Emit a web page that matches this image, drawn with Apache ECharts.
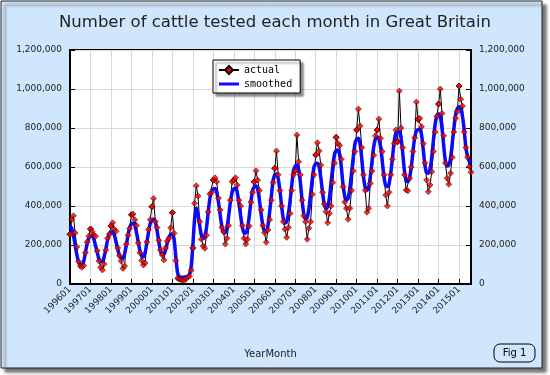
<!DOCTYPE html>
<html><head><meta charset="utf-8">
<script src="https://cdn.jsdelivr.net/npm/echarts@6/dist/echarts.min.js"></script>
<style>html,body{margin:0;padding:0;background:#fff}#c{width:550px;height:375px}</style>
</head><body><div id="c"></div>
<script>
// values in thousands of cattle
const firstYear = 1996, lastYear = 2015, lastMonth = 8;
const categories = [];
for (let y = firstYear; y <= lastYear; y++) {
  for (let m = 1; m <= 12; m++) {
    if (y === lastYear && m > lastMonth) break;
    categories.push(String(y) + (m < 10 ? '0' + m : String(m)));
  }
}
const actual = [
  255, 330, 350, 262, 190, 115, 92, 86, 95, 160, 215, 245,
  282, 268, 250, 245, 170, 118, 85, 72, 102, 175, 235, 255,
  298, 314, 280, 270, 185, 145, 118, 80, 92, 205, 250, 285,
  355, 359, 330, 300, 210, 160, 120, 97, 108, 215, 280, 330,
  396, 439, 320, 290, 225, 175, 150, 123, 185, 220, 235, 289,
  366, 260, 120, 30, 25, 22, 20, 18, 28, 35, 40, 70,
  185, 414, 504, 451, 320, 230, 195, 183, 250, 370, 461, 470,
  533, 545, 525, 440, 380, 290, 268, 205, 234, 300, 430, 524,
  533, 545, 508, 430, 400, 300, 234, 205, 229, 297, 420, 470,
  524, 581, 533, 480, 380, 300, 263, 214, 277, 330, 430, 520,
  593, 682, 560, 480, 400, 320, 281, 239, 290, 362, 480, 560,
  581, 764, 627, 560, 430, 350, 319, 229, 286, 319, 460, 560,
  662, 725, 682, 610, 470, 410, 371, 314, 362, 400, 520, 620,
  752, 721, 710, 640, 499, 420, 388, 332, 388, 480, 580, 680,
  790, 897, 810, 700, 560, 480, 368, 388, 516, 580, 660, 760,
  790, 846, 747, 680, 560, 456, 400, 470, 560, 640, 720, 790,
  730, 990, 800, 700, 560, 482, 478, 542, 600, 680, 750, 933,
  844, 850, 807, 720, 620, 533, 473, 508, 576, 680, 780, 860,
  923, 1000, 875, 760, 620, 542, 511, 568, 650, 780, 850, 884,
  1015, 947, 913, 780, 700, 650, 602, 573
];
const smoothed = [
  300, 285, 250, 200, 150, 115, 100, 97, 115, 160, 205, 235,
  245, 246, 230, 195, 160, 128, 114, 116, 140, 180, 225, 255,
  266, 268, 250, 215, 178, 145, 133, 132, 155, 200, 250, 290,
  308, 311, 300, 262, 215, 170, 145, 140, 160, 210, 265, 310,
  328, 332, 318, 275, 220, 170, 150, 152, 175, 210, 240, 254,
  256, 230, 140, 60, 38, 35, 34, 35, 37, 40, 48, 90,
  200, 330, 390, 360, 300, 250, 234, 245, 290, 370, 440, 478,
  488, 490, 470, 420, 355, 295, 265, 262, 290, 350, 420, 470,
  488, 491, 470, 415, 350, 290, 262, 260, 285, 345, 420, 480,
  498, 502, 485, 430, 360, 300, 270, 268, 300, 370, 450, 530,
  560, 564, 540, 480, 400, 335, 311, 320, 360, 430, 510, 580,
  605, 610, 585, 520, 430, 360, 332, 340, 385, 460, 540, 600,
  617, 619, 600, 545, 470, 410, 388, 395, 440, 520, 600, 665,
  684, 687, 665, 600, 510, 450, 431, 440, 490, 570, 650, 720,
  742, 747, 720, 640, 550, 495, 482, 495, 550, 630, 705, 745,
  752, 745, 705, 630, 550, 505, 499, 515, 570, 650, 730, 775,
  780, 781, 750, 670, 580, 530, 525, 545, 600, 680, 750, 785,
  792, 793, 765, 690, 610, 570, 568, 590, 650, 740, 820, 862,
  872, 860, 800, 710, 630, 605, 610, 645, 720, 800, 870, 900,
  909, 900, 860, 790, 700, 655, 630, 619
];
const yMax = 1200, yStep = 200;
const fmt = v => (v * 1000).toLocaleString('en-US');
const font = 'DejaVu Sans';
const chart = echarts.init(document.getElementById('c'), null, {renderer: 'canvas'});
const yAxisBase = {
  type: 'value', min: 0, max: yMax, interval: yStep,
  axisLine: {show: true, lineStyle: {color: '#000', width: 2}},
  axisTick: {show: true, inside: true, length: 5, lineStyle: {color: '#000'}},
  axisLabel: {formatter: fmt, fontFamily: font, fontSize: 9, color: '#222', margin: 8}
};
chart.setOption({
  animation: false,
  backgroundColor: '#fff',
  graphic: [
    {type: 'rect', z: -10, shape: {x: 1, y: 1, width: 541, height: 367},
     style: {fill: '#d0e6fc', stroke: '#222', lineWidth: 1,
             shadowBlur: 3, shadowOffsetX: 4, shadowOffsetY: 4, shadowColor: 'rgba(0,0,0,0.55)'}},
    {type: 'rect', shape: {x: 494, y: 344, width: 41, height: 18, r: 6},
     style: {fill: '#d0e6fc', stroke: '#000', lineWidth: 1}},
    {type: 'text', x: 514.5, y: 353, style: {text: 'Fig 1', font: '10px "DejaVu Sans"', fill: '#000', textAlign: 'center', textVerticalAlign: 'middle'}}
  ],
  title: {
    text: 'Number of cattle tested each month in Great Britain',
    left: 'center', top: 9,
    textStyle: {fontFamily: font, fontSize: 16.5, fontWeight: 'normal', color: '#222'}
  },
  legend: {
    orient: 'vertical', left: 213, top: 60,
    backgroundColor: '#fff', borderColor: '#000', borderWidth: 1, borderRadius: 0,
    shadowColor: 'rgba(0,0,0,0.45)', shadowBlur: 2, shadowOffsetX: 3, shadowOffsetY: 3,
    padding: [5, 8, 4, 5], itemGap: 4, itemWidth: 20, itemHeight: 10,
    textStyle: {fontFamily: 'DejaVu Sans Mono', fontSize: 10, color: '#000'},
    data: [
      {name: 'actual'},
      {name: 'smoothed', icon: 'path://M0,0L20,0L20,3L0,3Z', itemStyle: {color: '#0a0aff'}}
    ]
  },
  grid: {left: 70, right: 79, top: 50, bottom: 91, show: true, borderColor: '#000', borderWidth: 2, backgroundColor: '#fff'},
  xAxis: {
    type: 'category', data: categories, boundaryGap: false,
    name: 'YearMonth', nameLocation: 'middle', nameGap: 65,
    nameTextStyle: {fontFamily: font, fontSize: 10, color: '#222'},
    axisLine: {lineStyle: {color: '#000', width: 2}},
    axisTick: {inside: true, length: 5, interval: 11, lineStyle: {color: '#000'}},
    axisLabel: {interval: 11, rotate: 45, fontFamily: font, fontSize: 9, color: '#222', margin: 4},
    splitLine: {show: true, interval: 11, lineStyle: {color: '#d8d8d8', width: 1}}
  },
  yAxis: [
    Object.assign({}, yAxisBase, {position: 'left', splitLine: {show: true, lineStyle: {color: '#d8d8d8', width: 1}}}),
    Object.assign({}, yAxisBase, {position: 'right', splitLine: {show: false}})
  ],
  series: [
    {name: 'actual', type: 'line', data: actual, z: 2,
     lineStyle: {color: '#000', width: 1}, itemStyle: {color: '#ff0000', borderColor: '#000', borderWidth: 0.6},
     symbol: 'diamond', symbolSize: 6, showSymbol: true},
    {name: 'smoothed', type: 'line', data: smoothed, z: 3, smooth: 0.3,
     lineStyle: {color: '#0a0aff', width: 3.5}, itemStyle: {color: '#0a0aff'}, showSymbol: false, symbol: 'none'},
    {name: 'actual', type: 'scatter', data: actual, z: 4,
     symbol: 'diamond', symbolSize: 6,
     itemStyle: {color: '#ff0000', borderColor: '#000', borderWidth: 0.6}}
  ]
});
</script></body></html>
